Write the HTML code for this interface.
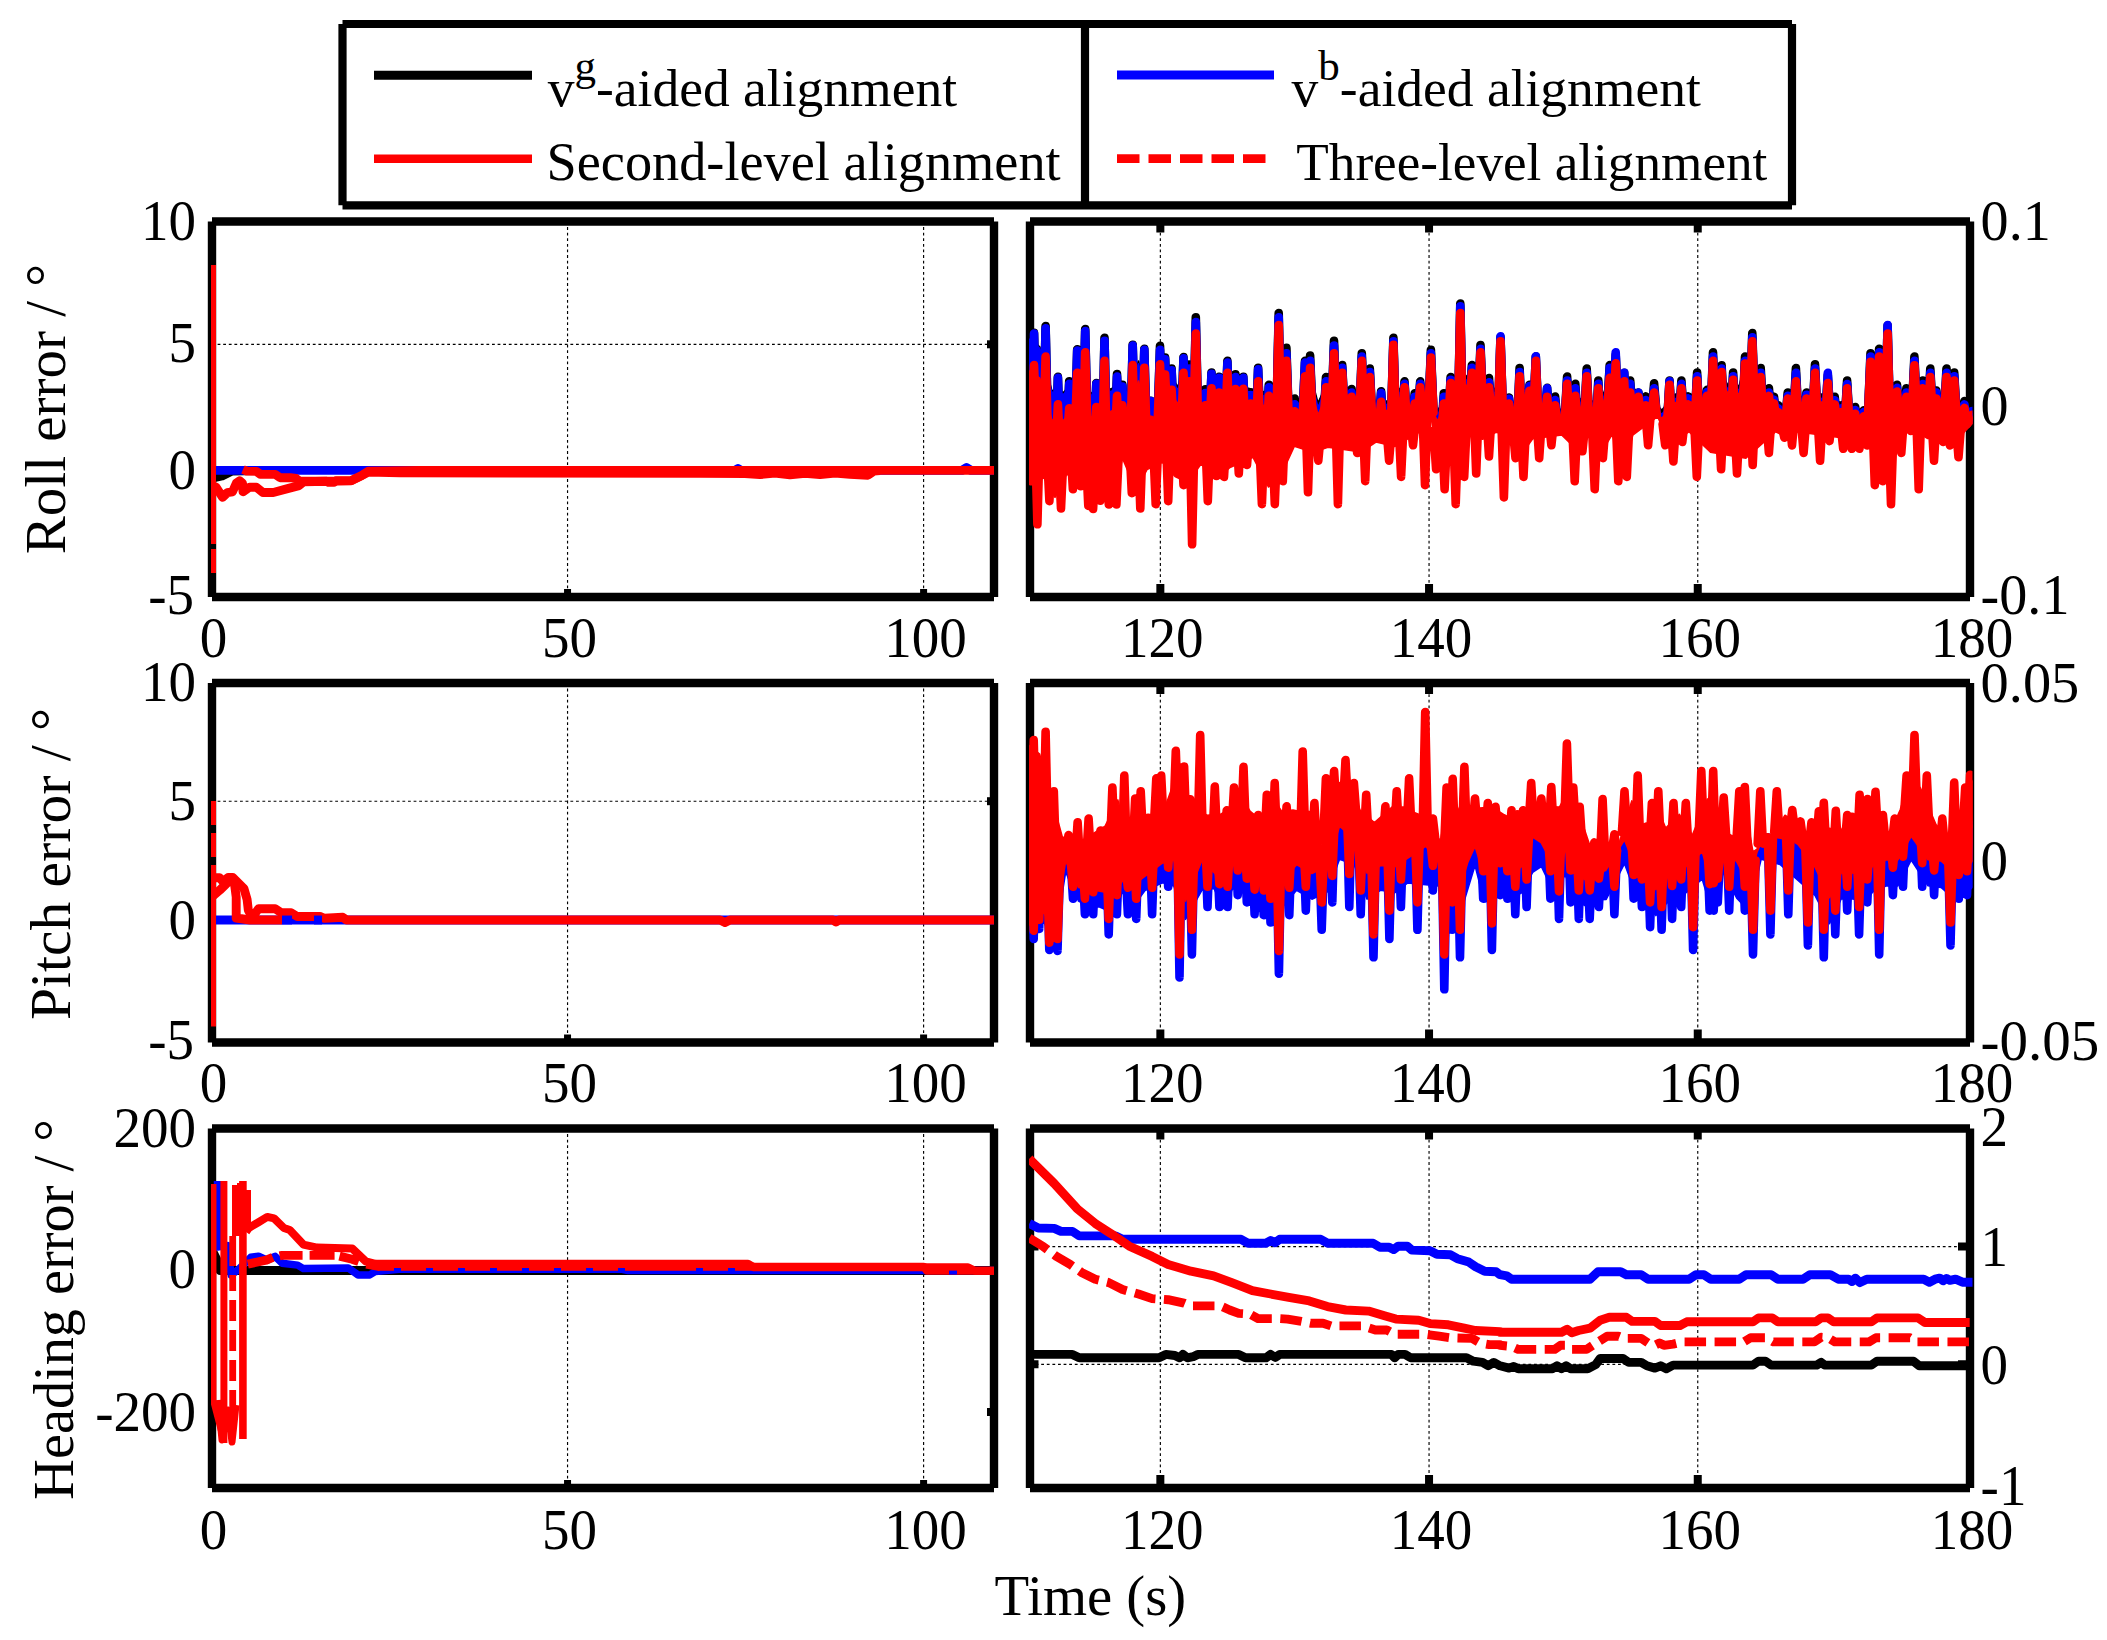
<!DOCTYPE html>
<html lang="en"><head><meta charset="utf-8"><title>Alignment errors</title>
<style>
html,body{margin:0;padding:0;background:#fff;}
body{width:2107px;height:1640px;overflow:hidden;}
svg{display:block;}
text{font-family:"Liberation Serif", "DejaVu Serif", serif;fill:#000;}
.ax{stroke:#000;stroke-width:8.4;fill:none;stroke-linecap:butt;}
.tk{stroke:#000;stroke-width:8;fill:none;}
.g{stroke:#000;stroke-width:1.15;stroke-dasharray:2.8 2.8;fill:none;}
.k{stroke:#000;} .b{stroke:#0000ff;} .r{stroke:#ff0000;}
.d{fill:none;stroke-width:8.9;stroke-linejoin:round;stroke-linecap:butt;}
</style></head><body>
<svg width="2107" height="1640" viewBox="0 0 2107 1640">
<rect x="0" y="0" width="2107" height="1640" fill="#fff"/>
<defs>
<clipPath id="c1"><rect x="211" y="217.5" width="785.5" height="383.5"/></clipPath>
<clipPath id="c2"><rect x="1029" y="217.5" width="943.5" height="383.5"/></clipPath>
<clipPath id="c3"><rect x="211" y="679" width="785.5" height="367.5"/></clipPath>
<clipPath id="c4"><rect x="1029" y="679" width="943.5" height="367.5"/></clipPath>
<clipPath id="c5"><rect x="211" y="1124.5" width="785.5" height="367.5"/></clipPath>
<clipPath id="c6"><rect x="1029" y="1124.5" width="943.5" height="367.5"/></clipPath>
</defs>
<line x1="567.55" y1="221.5" x2="567.55" y2="597" class="g"/>
<line x1="923.6" y1="221.5" x2="923.6" y2="597" class="g"/>
<line x1="567.55" y1="683" x2="567.55" y2="1042.5" class="g"/>
<line x1="923.6" y1="683" x2="923.6" y2="1042.5" class="g"/>
<line x1="567.55" y1="1128.5" x2="567.55" y2="1488" class="g"/>
<line x1="923.6" y1="1128.5" x2="923.6" y2="1488" class="g"/>
<line x1="1160.35" y1="221.5" x2="1160.35" y2="597" class="g"/>
<line x1="1429.05" y1="221.5" x2="1429.05" y2="597" class="g"/>
<line x1="1697.75" y1="221.5" x2="1697.75" y2="597" class="g"/>
<line x1="1160.35" y1="683" x2="1160.35" y2="1042.5" class="g"/>
<line x1="1429.05" y1="683" x2="1429.05" y2="1042.5" class="g"/>
<line x1="1697.75" y1="683" x2="1697.75" y2="1042.5" class="g"/>
<line x1="1160.35" y1="1128.5" x2="1160.35" y2="1488" class="g"/>
<line x1="1429.05" y1="1128.5" x2="1429.05" y2="1488" class="g"/>
<line x1="1697.75" y1="1128.5" x2="1697.75" y2="1488" class="g"/>
<line x1="212" y1="344.3" x2="994" y2="344.3" class="g"/>
<line x1="212" y1="801.2" x2="994" y2="801.2" class="g"/>
<line x1="1030" y1="1246.6" x2="1970" y2="1246.6" class="g"/>
<line x1="1030" y1="1364.3" x2="1970" y2="1364.3" class="g"/>
<path class="ax" d="M212 221.5H994 M212 597H994 M212 221.5V597 M994 221.5V597"/>
<path class="ax" d="M1030 221.5H1970 M1030 597H1970 M1030 221.5V597 M1970 221.5V597"/>
<path class="ax" d="M212 683H994 M212 1042.5H994 M212 683V1042.5 M994 683V1042.5"/>
<path class="ax" d="M1030 683H1970 M1030 1042.5H1970 M1030 683V1042.5 M1970 683V1042.5"/>
<path class="ax" d="M212 1128.5H994 M212 1488H994 M212 1128.5V1488 M994 1128.5V1488"/>
<path class="ax" d="M1030 1128.5H1970 M1030 1488H1970 M1030 1128.5V1488 M1970 1128.5V1488"/>
<path class="tk" style="stroke-width:7" d="M567.55 597v-8 M923.6 597v-8 "/>
<path class="tk" style="stroke-width:7" d="M567.55 1042.5v-8 M923.6 1042.5v-8 "/>
<path class="tk" style="stroke-width:7" d="M567.55 1488v-8 M923.6 1488v-8 "/>
<path class="tk" style="stroke-width:8" d="M1160.35 597v-13 M1160.35 221.5v11 M1429.05 597v-13 M1429.05 221.5v11 M1697.75 597v-13 M1697.75 221.5v11 "/>
<path class="tk" style="stroke-width:8" d="M1160.35 1042.5v-13 M1160.35 683v11 M1429.05 1042.5v-13 M1429.05 683v11 M1697.75 1042.5v-13 M1697.75 683v11 "/>
<path class="tk" style="stroke-width:8" d="M1160.35 1488v-13 M1160.35 1128.5v11 M1429.05 1488v-13 M1429.05 1128.5v11 M1697.75 1488v-13 M1697.75 1128.5v11 "/>
<path class="tk" d="M994 344.3h-7 "/>
<path class="tk" d="M994 801.2h-7 "/>
<path class="tk" d="M994 1412h-7 "/>
<path class="tk" d="M1970 1246.6h-12 M1970 1364.3h-12 "/>
<path class="tk" d="M1030 1246.6h8.5 M1030 1364.3h8.5 "/>
<g clip-path="url(#c6)">
<path class="d k" d="M1029.3 1354.4 L1031.4 1354.4 L1072.4 1354.4 L1079.2 1357.8 L1159.0 1357.8 L1165.8 1354.4 L1174.9 1355.5 L1179.5 1357.8 L1182.9 1354.4 L1187.4 1357.8 L1193.1 1356.7 L1197.7 1354.4 L1238.7 1354.4 L1245.5 1357.8 L1266.0 1357.8 L1270.6 1354.4 L1275.1 1357.4 L1279.7 1354.4 L1391.3 1354.4 L1394.7 1357.8 L1398.2 1354.4 L1405.0 1354.4 L1410.7 1357.8 L1466.5 1357.8 L1473.3 1361.2 L1482.5 1362.4 L1488.2 1365.8 L1493.8 1362.4 L1500.0 1365.8 L1500.0 1365.8 L1509.1 1368.1 L1513.7 1366.5 L1518.2 1368.7 L1552.4 1368.7 L1557.0 1365.8 L1561.5 1368.7 L1566.1 1365.8 L1570.6 1368.7 L1587.7 1368.7 L1595.7 1364.6 L1600.2 1358.5 L1623.0 1358.5 L1628.7 1362.4 L1641.2 1362.4 L1646.9 1365.8 L1654.9 1368.1 L1660.6 1365.8 L1666.3 1368.7 L1673.1 1365.1 L1752.9 1365.1 L1758.6 1361.2 L1765.4 1361.2 L1771.1 1365.1 L1816.7 1365.1 L1821.2 1362.4 L1824.6 1365.1 L1871.3 1365.1 L1877.0 1361.2 L1913.5 1361.2 L1919.2 1365.8 L1969.7 1365.8" />
<path class="d b" d="M1029.3 1223.5 L1031.4 1224.5 L1038.2 1228.0 L1054.2 1228.4 L1061.0 1231.4 L1072.4 1231.4 L1079.2 1235.9 L1115.7 1235.9 L1122.5 1239.3 L1241.0 1239.3 L1247.8 1243.2 L1266.0 1243.2 L1270.6 1240.5 L1275.1 1242.8 L1279.7 1239.3 L1320.7 1239.3 L1327.5 1243.2 L1373.1 1243.2 L1379.9 1247.3 L1389.1 1247.3 L1393.6 1249.6 L1398.2 1246.2 L1407.3 1246.2 L1411.8 1250.1 L1430.1 1250.7 L1436.9 1254.2 L1450.6 1254.8 L1457.4 1258.7 L1468.8 1262.1 L1475.6 1266.7 L1484.7 1271.2 L1496.1 1271.7 L1500.0 1274.7 L1500.0 1274.7 L1506.8 1275.8 L1511.4 1279.2 L1590.0 1279.2 L1598.0 1271.7 L1620.7 1271.7 L1626.4 1274.7 L1641.2 1274.7 L1648.1 1279.2 L1689.1 1279.2 L1695.9 1274.7 L1703.9 1274.7 L1710.7 1279.2 L1739.2 1279.2 L1746.0 1274.7 L1771.1 1274.7 L1777.9 1279.2 L1803.0 1279.2 L1809.8 1274.7 L1830.3 1274.7 L1838.3 1279.2 L1848.6 1279.2 L1852.0 1281.5 L1855.4 1278.1 L1859.9 1282.6 L1866.8 1279.2 L1923.7 1279.2 L1929.4 1282.2 L1935.1 1279.2 L1939.7 1278.1 L1943.1 1280.8 L1946.5 1278.5 L1949.9 1280.4 L1955.6 1279.2 L1962.5 1282.2 L1973.4 1282.2" />
<path class="d r" d="M1029.3 1158.7 L1031.4 1160.8 L1054.2 1183.5 L1077.0 1208.6 L1095.2 1223.4 L1111.1 1233.7 L1129.3 1246.2 L1152.1 1256.4 L1168.1 1264.4 L1190.9 1271.2 L1213.6 1275.8 L1231.9 1282.6 L1252.4 1290.6 L1270.6 1294.0 L1288.8 1297.4 L1309.3 1300.9 L1327.5 1306.6 L1345.8 1310.0 L1368.6 1311.1 L1384.5 1315.7 L1395.9 1319.1 L1418.7 1320.2 L1430.1 1323.6 L1448.3 1324.8 L1464.2 1328.2 L1475.6 1330.5 L1500.0 1331.6 L1500.0 1332.3 L1561.5 1332.3 L1567.2 1329.3 L1571.8 1332.8 L1578.6 1330.5 L1590.0 1328.2 L1600.2 1320.2 L1609.3 1317.3 L1626.4 1317.3 L1632.1 1321.4 L1654.9 1321.4 L1660.6 1325.5 L1680.0 1325.5 L1686.8 1321.8 L1752.9 1321.8 L1758.6 1317.9 L1772.2 1317.9 L1777.9 1321.8 L1815.5 1321.8 L1821.2 1317.9 L1828.0 1317.9 L1833.7 1321.8 L1871.3 1321.8 L1877.0 1317.9 L1918.0 1317.9 L1924.9 1322.5 L1969.7 1322.5" />
<path class="d r" d="M1029.3 1238.1 L1031.4 1239.3 L1042.8 1246.2 L1056.4 1256.4 L1070.1 1264.4 L1081.5 1272.4 L1095.2 1279.2 L1108.8 1282.6 L1122.5 1289.5 L1138.5 1294.0 L1152.1 1298.6 L1168.1 1299.7 L1184.0 1303.1 L1190.9 1305.9 L1220.5 1305.9 L1229.6 1310.0 L1238.7 1313.4 L1250.1 1314.1 L1258.1 1318.6 L1279.7 1318.6 L1287.7 1319.1 L1301.3 1321.4 L1310.5 1323.2 L1323.0 1323.2 L1331.0 1325.9 L1362.9 1325.9 L1375.4 1330.0 L1386.8 1330.0 L1394.7 1334.3 L1425.5 1334.3 L1439.2 1336.2 L1450.6 1337.8 L1472.2 1338.4 L1480.2 1343.0 L1489.3 1344.6 L1500.0 1344.6 L1500.0 1345.3 L1511.4 1346.4 L1518.2 1349.4 L1554.7 1349.4 L1560.4 1345.3 L1564.9 1345.3 L1570.6 1349.4 L1586.6 1349.4 L1598.0 1341.9 L1607.1 1336.2 L1618.5 1336.2 L1624.2 1338.4 L1641.2 1338.4 L1648.1 1343.0 L1654.9 1345.3 L1659.5 1343.0 L1664.0 1345.3 L1673.1 1344.1 L1682.2 1341.9 L1743.8 1341.9 L1750.6 1337.8 L1766.5 1337.8 L1773.4 1341.9 L1814.4 1341.9 L1821.2 1337.3 L1828.0 1337.8 L1834.9 1341.9 L1869.1 1341.9 L1875.9 1337.8 L1910.1 1337.8 L1916.9 1341.9 L1969.7 1341.9" stroke-dasharray="21.5 8.5"/>
</g>
<path class="d k" d="M213.0 478.0 L222.0 476.0 L232.0 471.0 L260.0 470.4" clip-path="url(#c1)" />
<path class="d b" d="M213.0 470.4 L735.0 470.4 L738.0 468.6 L741.0 470.4 L962.0 470.4 L966.5 467.6 L971.0 470.4 L994.0 470.4" clip-path="url(#c1)" />
<path class="d r" d="M212.6 486.1 L215.9 487.0 L222.6 497.3 L227.3 492.7 L232.5 491.8 L236.3 483.2 L239.6 480.8 L242.5 483.2 L243.0 491.8 L249.6 487.2 L256.3 487.2 L262.9 492.5 L273.3 492.5 L288.5 488.4 L299.0 485.6 L303.7 481.8 L326.5 481.3 L328.4 482.3 L334.1 482.3 L336.0 480.8 L351.2 480.6 L360.7 476.1 L368.3 472.0 L400.0 472.8 L700.0 473.3 L745.0 473.6 L760.0 474.6 L775.0 473.0 L790.0 474.8 L805.0 473.4 L820.0 474.6 L835.0 473.0 L850.0 474.2 L868.0 475.2 L874.0 471.0 L880.0 470.6" clip-path="url(#c1)" />
<path class="d r" d="M243.0 469.5 L246.8 471.1 L256.3 471.4 L260.1 474.2 L275.2 474.4 L280.0 477.7 L290.4 477.7 L296.1 478.5 L299.9 481.3 L351.2 480.9 L360.7 476.1 L368.3 471.1 L420.0 470.4 L994.0 470.4" clip-path="url(#c1)" />
<path d="M213.5 265V544 M213.5 549V573" stroke="#f00" stroke-width="5" fill="none"/>
<path class="d b" d="M213.0 920.0 L994.0 920.0" clip-path="url(#c3)" />
<path class="d r" d="M213.0 877.8 L219.7 877.8 L222.8 881.5 L228.1 877.5 L232.7 877.5 L244.0 888.7 L247.1 899.4 L248.3 910.0 L252.4 917.5 L258.5 908.8 L275.2 908.8 L281.3 912.7 L291.1 912.7 L297.2 916.5 L320.0 916.5 L324.5 918.3 L342.8 917.3 L346.6 920.0 L720.0 920.0 L725.0 922.5 L730.0 920.0 L833.0 920.0 L836.0 922.0 L839.0 920.0 L994.0 920.0" clip-path="url(#c3)" />
<path class="d r" d="M213.0 896.0 L219.7 890.2 L224.3 885.7 L229.0 881.0 L234.0 880.0 L236.2 897.0 L236.2 918.0 L250.0 920.0 L282.0 920.0" clip-path="url(#c3)" />
<path class="d b" d="M282.0 920.0 L292.0 920.0" clip-path="url(#c3)" />
<path class="d b" d="M314.0 920.0 L322.0 920.0" clip-path="url(#c3)" />
<path d="M213.5 801V825 M213.5 833V857 M213.5 865V1026.5" stroke="#f00" stroke-width="5" fill="none"/>
<path class="d k" d="M213.0 1252.0 L218.0 1262.0 L220.0 1270.5 L994.0 1270.5" clip-path="url(#c5)" />
<path class="d b" d="M217.5 1181.0 L217.5 1247.0 L227.3 1245.6 L231.2 1274.9 L239.0 1269.0 L250.7 1257.3 L258.5 1256.3 L267.3 1260.2 L275.1 1256.3 L282.0 1263.2 L297.6 1265.1 L303.4 1268.6 L348.3 1268.0 L358.0 1274.9 L369.8 1274.9 L375.6 1271.4 L399.0 1269.3 L622.0 1269.3 L628.0 1270.5 L994.0 1270.5" clip-path="url(#c5)" style="stroke-width:7.5"/>
<g clip-path="url(#c5)" fill="none" stroke="#f00">
<path d="M213.7 1184V1404 L221 1432" stroke-width="5.5"/>
<path d="M223.9 1181V1443" stroke-width="7"/>
<path d="M242.9 1181V1439" stroke-width="7.6"/>
<path d="M232.7 1236V1423" stroke-width="6.8" stroke-dasharray="30 9 16 9 21 9 21 9 21 9"/>
<path d="M236 1185V1236 M241 1183V1232 M247 1190V1230" stroke-width="8"/>
<path d="M218 1400L222 1440L228 1410L232 1442L236 1405" stroke-width="7" stroke-linejoin="round"/>
</g>
<path class="d r" d="M246.0 1232.0 L248.8 1228.0 L258.5 1222.2 L267.3 1216.9 L274.1 1218.3 L283.9 1228.0 L289.8 1230.0 L303.4 1244.6 L317.1 1247.6 L352.2 1248.5 L365.9 1261.5 L375.6 1263.8 L748.0 1263.8 L754.0 1267.2 L968.0 1267.2 L975.0 1270.8 L994.0 1270.8" clip-path="url(#c5)" style="stroke-width:8"/>
<path class="d r" d="M247.8 1264.1 L266.3 1260.2 L274.1 1256.9 L282.0 1255.4 L336.6 1255.4 L352.2 1259.3 L365.9 1264.1 L380.0 1266.7" clip-path="url(#c5)" stroke-dasharray="26 7 23 7 25 5 20 8"/>
<path class="d r" d="M378.0 1266.7 L924.0 1266.7 L927.0 1270.8 L994.0 1270.8" clip-path="url(#c5)" style="stroke-width:8"/>
<path d="M394 1269.6H640 M696 1269.6H704 M728 1269.6H736" stroke="#00f" stroke-width="3.2" stroke-dasharray="7 25" fill="none"/>
<path d="M949 1272.6H957" stroke="#00f" stroke-width="4" fill="none"/>
<g clip-path="url(#c2)">
<path d="M1029.0 337.6 L1039.8 346.8 L1051.8 390.2 L1063.5 392.3 L1073.2 382.5 L1081.2 348.1 L1090.8 393.7 L1100.4 385.0 L1111.0 389.2 L1119.7 382.4 L1127.5 392.7 L1138.5 360.9 L1147.4 399.0 L1155.3 406.4 L1162.5 355.2 L1168.3 370.6 L1177.6 386.7 L1186.3 363.2 L1192.4 363.5 L1200.5 394.5 L1208.4 388.1 L1215.2 375.7 L1223.1 379.9 L1232.0 375.0 L1239.4 374.8 L1247.0 387.9 L1264.0 391.7 L1273.7 389.7 L1282.5 347.6 L1290.5 400.2 L1299.8 407.1 L1307.5 362.8 L1318.0 402.8 L1330.0 376.5 L1338.1 362.8 L1347.0 391.0 L1356.7 394.1 L1365.8 367.2 L1375.5 403.0 L1390.4 402.1 L1399.0 388.4 L1409.6 401.8 L1418.0 391.9 L1425.6 387.7 L1437.4 410.8 L1455.4 380.3 L1466.1 376.5 L1476.2 366.1 L1485.0 381.0 L1514.3 404.1 L1525.0 388.6 L1532.7 380.6 L1541.5 399.8 L1551.1 397.4 L1561.1 410.7 L1571.2 388.7 L1581.0 399.8 L1595.5 401.4 L1604.0 392.2 L1612.7 368.2 L1642.2 396.0 L1650.0 398.4 L1661.8 410.0 L1675.5 394.1 L1685.0 394.9 L1693.0 399.8 L1702.1 394.9 L1710.0 386.4 L1717.3 366.7 L1727.3 384.0 L1739.0 385.8 L1748.7 354.1 L1765.0 389.4 L1771.5 394.2 L1776.2 402.8 L1783.0 409.6 L1791.8 391.9 L1799.1 401.1 L1804.3 401.1 L1811.0 393.0 L1831.2 395.1 L1838.1 402.8 L1844.3 402.8 L1859.4 410.0 L1867.1 407.1 L1874.8 356.4 L1883.3 351.3 L1892.3 389.2 L1902.0 394.1 L1911.0 389.1 L1918.5 381.7 L1926.4 380.0 L1941.4 398.9 L1950.4 372.5 L1959.3 408.3 L1968.3 406.5 L1973.0 410.0 L1973.0 420.5 L1968.0 421.4 L1959.3 426.8 L1954.0 418.8 L1950.4 411.7 L1941.4 423.2 L1926.0 412.7 L1906.0 412.7 L1901.0 418.5 L1896.0 422.1 L1892.3 427.8 L1886.7 426.1 L1883.3 419.6 L1878.6 421.7 L1874.8 414.0 L1870.9 417.8 L1867.0 430.4 L1855.6 432.8 L1847.0 425.5 L1838.0 424.1 L1810.8 417.1 L1804.0 420.8 L1799.0 420.5 L1791.8 417.6 L1788.0 422.7 L1783.0 426.5 L1771.0 418.5 L1764.8 418.4 L1748.7 408.7 L1739.0 425.9 L1727.0 424.2 L1717.3 414.5 L1710.0 423.2 L1692.7 421.7 L1689.0 418.8 L1675.0 421.5 L1669.3 426.7 L1661.8 422.3 L1657.5 415.2 L1632.8 415.9 L1622.5 430.3 L1612.7 406.3 L1612.0 406.7 L1604.0 424.4 L1598.8 431.5 L1595.0 428.7 L1588.4 420.7 L1581.0 427.5 L1578.6 428.6 L1571.0 420.9 L1561.9 426.4 L1561.0 427.2 L1551.0 420.6 L1541.5 422.2 L1532.7 414.2 L1519.5 431.3 L1514.0 428.7 L1509.9 422.5 L1496.0 416.6 L1482.6 412.8 L1476.0 406.3 L1470.2 408.4 L1460.0 431.1 L1455.0 427.9 L1451.4 427.4 L1440.3 440.8 L1437.4 435.9 L1430.9 412.6 L1425.6 410.8 L1409.6 424.6 L1398.9 421.3 L1395.0 425.7 L1390.0 428.9 L1375.5 428.1 L1365.8 413.5 L1356.7 428.2 L1346.9 425.8 L1338.0 411.3 L1328.0 419.9 L1318.0 432.7 L1307.5 412.8 L1299.8 433.8 L1294.4 431.1 L1290.5 433.8 L1282.5 416.4 L1278.8 429.4 L1273.7 443.4 L1268.4 445.7 L1253.0 430.2 L1246.9 431.7 L1239.0 427.0 L1230.0 429.2 L1223.0 434.4 L1220.0 434.9 L1215.0 433.0 L1208.0 437.2 L1200.9 437.3 L1200.5 437.7 L1192.4 428.1 L1187.8 431.3 L1186.0 431.2 L1177.6 441.0 L1168.0 428.1 L1162.5 418.0 L1155.3 445.4 L1147.0 443.1 L1138.5 433.4 L1136.0 439.3 L1127.5 441.9 L1122.4 432.8 L1119.7 437.5 L1112.6 457.5 L1104.0 454.0 L1100.0 454.6 L1090.7 462.6 L1084.4 437.6 L1081.2 430.1 L1076.8 439.9 L1073.0 445.5 L1066.9 445.0 L1063.0 450.8 L1055.0 458.7 L1051.8 455.8 L1043.9 435.1 L1039.8 429.0 L1034.0 428.2 L1029.0 423.2Z" fill="#000" stroke="#000" stroke-width="1.5" stroke-linejoin="round"/>
<path d="M1031.4 428.2L1034.0 332.7L1036.6 428.2M1043.0 440.6L1045.6 326.1L1048.2 440.6M1055.3 455.7L1057.9 376.8L1060.5 455.7M1066.6 445.1L1069.2 381.2L1071.8 445.1M1074.6 439.4L1077.2 349.3L1079.8 439.4M1082.6 439.9L1085.2 329.0L1087.8 439.9M1093.7 457.2L1096.3 383.1L1098.9 457.2M1101.9 454.0L1104.5 337.8L1107.1 454.0M1114.4 445.1L1117.0 374.0L1119.6 445.1M1119.8 432.8L1122.4 384.8L1125.0 432.8M1130.1 440.2L1132.7 344.7L1135.3 440.2M1141.7 439.7L1144.3 348.9L1146.9 439.7M1148.0 444.6L1150.6 400.7L1153.2 444.6M1157.4 427.5L1160.0 345.8L1162.6 427.5M1162.5 422.5L1165.1 357.5L1167.7 422.5M1169.0 433.9L1171.6 368.6L1174.2 433.9M1180.9 433.6L1183.5 357.1L1186.1 433.6M1186.4 430.4L1189.0 364.6L1191.6 430.4M1193.2 432.3L1195.8 317.2L1198.4 432.3M1202.6 437.2L1205.2 389.3L1207.8 437.2M1208.9 435.3L1211.5 372.5L1214.1 435.3M1216.3 434.5L1218.9 376.8L1221.5 434.5M1224.8 431.4L1227.4 360.9L1230.0 431.4M1232.8 427.8L1235.4 374.3L1238.0 427.8M1240.7 429.5L1243.3 376.8L1245.9 429.5M1247.9 430.9L1250.5 392.5L1253.1 430.9M1255.5 435.6L1258.1 367.7L1260.7 435.6M1266.2 445.5L1268.8 384.8L1271.4 445.5M1276.1 429.4L1278.7 313.1L1281.3 429.4M1283.8 424.0L1286.4 347.9L1289.0 424.0M1292.1 431.4L1294.7 398.5L1297.3 431.4M1302.4 419.6L1305.0 360.9L1307.6 419.6M1307.5 417.8L1310.1 355.5L1312.7 417.8M1323.4 422.5L1326.0 377.1L1328.6 422.5M1331.4 414.5L1334.0 340.7L1336.6 414.5M1339.6 417.7L1342.2 365.1L1344.8 417.7M1349.0 427.0L1351.6 389.0L1354.2 427.0M1359.2 420.5L1361.8 353.2L1364.4 420.5M1367.2 419.8L1369.8 368.6L1372.4 419.8M1378.5 428.0L1381.1 391.2L1383.7 428.0M1384.8 428.5L1387.4 404.4L1390.0 428.5M1390.8 427.1L1393.4 337.8L1396.0 427.1M1401.9 422.8L1404.5 381.4L1407.1 422.8M1412.1 419.8L1414.7 393.3L1417.3 419.8M1417.6 415.9L1420.2 381.4L1422.8 415.9M1428.3 412.6L1430.9 349.8L1433.5 412.6M1441.2 436.1L1443.8 393.3L1446.4 436.1M1448.0 427.9L1450.6 377.1L1453.2 427.9M1457.7 431.1L1460.3 303.6L1462.9 431.1M1469.3 407.7L1471.9 365.1L1474.5 407.7M1477.9 410.2L1480.5 345.0L1483.1 410.2M1486.4 415.1L1489.0 378.1L1491.6 415.1M1497.9 418.1L1500.5 337.3L1503.1 418.1M1506.4 422.1L1509.0 397.6L1511.6 422.1M1517.0 431.3L1519.6 368.0L1522.2 431.3M1526.9 417.4L1529.5 384.8L1532.1 417.4M1533.2 417.1L1535.8 356.6L1538.4 417.1M1544.5 421.1L1547.1 387.9L1549.7 421.1M1552.5 423.2L1555.1 396.5L1557.7 423.2M1564.5 423.3L1567.1 376.6L1569.7 423.3M1572.7 424.8L1575.3 383.9L1577.9 424.8M1584.1 422.0L1586.7 368.6L1589.3 422.0M1590.1 426.3L1592.7 405.3L1595.3 426.3M1595.7 431.0L1598.3 380.5L1600.9 431.0M1607.1 411.1L1609.7 365.1L1612.3 411.1M1613.1 414.3L1615.7 355.0L1618.3 414.3M1621.6 428.3L1624.2 372.9L1626.8 428.3M1627.6 419.8L1630.2 380.5L1632.8 419.8M1635.8 416.1L1638.4 392.5L1641.0 416.1M1643.3 415.3L1645.9 396.4L1648.5 415.3M1651.5 414.8L1654.1 383.4L1656.7 414.8M1666.9 426.7L1669.5 380.5L1672.1 426.7M1678.8 419.6L1681.4 380.5L1684.0 419.6M1685.7 418.7L1688.3 396.4L1690.9 418.7M1694.5 422.6L1697.1 372.5L1699.7 422.6M1704.4 423.3L1707.0 389.9L1709.6 423.3M1710.4 419.7L1713.0 352.3L1715.6 419.7M1719.0 419.2L1721.6 365.2L1724.2 419.2M1730.5 425.3L1733.1 372.5L1735.7 425.3M1742.4 416.2L1745.0 356.6L1747.6 416.2M1749.7 410.5L1752.3 333.1L1754.9 410.5M1758.1 415.6L1760.7 368.1L1763.3 415.6M1766.3 418.5L1768.9 388.2L1771.5 418.5M1771.4 419.9L1774.0 396.8L1776.6 419.9M1775.7 422.8L1778.3 405.3L1780.9 422.8M1785.1 422.7L1787.7 392.5L1790.3 422.7M1793.3 418.8L1795.9 368.1L1798.5 418.8M1799.6 420.7L1802.2 400.2L1804.8 420.7M1803.9 419.8L1806.5 392.5L1809.1 419.8M1812.4 417.2L1815.0 364.3L1817.6 417.2M1825.2 419.1L1827.8 375.1L1830.4 419.1M1832.1 422.2L1834.7 396.8L1837.3 422.2M1838.9 424.3L1841.5 405.3L1844.1 424.3M1844.5 425.5L1847.1 380.5L1849.7 425.5M1852.6 432.3L1855.2 407.0L1857.8 432.3M1861.1 431.0L1863.7 410.4L1866.3 431.0M1867.9 417.8L1870.5 353.2L1873.1 417.8M1876.5 421.6L1879.1 348.9L1881.7 421.6M1885.0 426.5L1887.6 325.6L1890.2 426.5M1894.4 421.3L1897.0 384.8L1899.6 421.3M1903.8 412.7L1906.4 388.2L1909.0 412.7M1911.8 411.7L1914.4 356.6L1917.0 411.7M1920.0 412.1L1922.6 380.5L1925.2 412.1M1927.7 415.6L1930.3 368.6L1932.9 415.6M1933.7 419.1L1936.3 390.5L1938.9 419.1M1943.9 417.5L1946.5 368.6L1949.1 417.5M1951.6 419.2L1954.2 372.5L1956.8 419.2M1961.8 423.9L1964.4 401.0L1967.0 423.9M1969.5 420.6L1972.1 406.7L1974.7 420.6" fill="#000" stroke="#000" stroke-width="8.6" stroke-linecap="round" stroke-linejoin="round"/>
<path d="M1029.0 339.1 L1039.8 348.4 L1051.8 392.0 L1063.5 394.2 L1073.2 384.5 L1081.2 350.2 L1090.8 396.0 L1100.4 387.3 L1111.0 391.7 L1119.7 385.0 L1127.5 395.4 L1138.5 363.7 L1147.4 401.9 L1155.3 409.4 L1162.5 358.3 L1168.3 373.7 L1177.6 390.0 L1186.3 366.6 L1192.4 367.0 L1200.5 398.1 L1208.4 391.8 L1215.2 379.4 L1223.1 383.7 L1232.0 379.0 L1239.4 378.9 L1247.0 392.1 L1264.0 396.0 L1273.7 394.0 L1282.5 351.9 L1290.5 404.5 L1299.8 411.4 L1307.5 367.1 L1318.0 407.1 L1330.0 380.8 L1338.1 367.1 L1347.0 395.3 L1356.7 398.4 L1365.8 371.5 L1375.5 407.3 L1390.4 406.4 L1399.0 392.7 L1409.6 406.1 L1418.0 396.2 L1425.6 392.0 L1437.4 415.1 L1455.4 384.6 L1466.1 380.8 L1476.2 370.4 L1485.0 385.3 L1514.3 408.4 L1525.0 392.9 L1532.7 384.9 L1541.5 404.1 L1551.1 401.7 L1561.1 415.0 L1571.2 393.0 L1581.0 404.1 L1595.5 405.7 L1604.0 396.5 L1612.7 372.5 L1642.2 400.3 L1650.0 402.7 L1661.8 414.3 L1675.5 398.4 L1685.0 399.2 L1693.0 404.1 L1702.1 399.2 L1710.0 390.7 L1717.3 371.0 L1727.3 388.3 L1739.0 390.1 L1748.7 358.4 L1765.0 393.7 L1771.5 398.5 L1776.2 407.1 L1783.0 413.9 L1791.8 396.2 L1799.1 405.4 L1804.3 405.4 L1811.0 397.3 L1831.2 399.4 L1838.1 407.1 L1844.3 407.1 L1859.4 414.3 L1867.1 411.4 L1874.8 360.7 L1883.3 355.6 L1892.3 393.5 L1902.0 398.4 L1911.0 393.4 L1918.5 386.0 L1926.4 384.3 L1941.4 403.2 L1950.4 376.8 L1959.3 412.6 L1968.3 410.8 L1973.0 414.3 L1973.0 420.5 L1968.0 421.4 L1959.3 426.8 L1954.0 418.8 L1950.4 411.7 L1941.4 423.2 L1926.0 412.7 L1906.0 412.7 L1901.0 418.5 L1896.0 422.1 L1892.3 427.8 L1886.7 426.1 L1883.3 419.6 L1878.6 421.7 L1874.8 414.0 L1870.9 417.8 L1867.0 430.4 L1855.6 432.8 L1847.0 425.5 L1838.0 424.1 L1810.8 417.1 L1804.0 420.8 L1799.0 420.5 L1791.8 417.6 L1788.0 422.7 L1783.0 426.5 L1771.0 418.5 L1764.8 418.4 L1748.7 408.7 L1739.0 425.9 L1727.0 424.2 L1717.3 414.5 L1710.0 423.2 L1692.7 421.7 L1689.0 418.8 L1675.0 421.5 L1669.3 426.7 L1661.8 422.3 L1657.5 415.2 L1632.8 415.9 L1622.5 430.3 L1612.7 406.3 L1612.0 406.7 L1604.0 424.4 L1598.8 431.5 L1595.0 428.7 L1588.4 420.7 L1581.0 427.5 L1578.6 428.6 L1571.0 420.9 L1561.9 426.4 L1561.0 427.2 L1551.0 420.6 L1541.5 422.2 L1532.7 414.2 L1519.5 431.3 L1514.0 428.7 L1509.9 422.5 L1496.0 416.6 L1482.6 412.8 L1476.0 406.3 L1470.2 408.4 L1460.0 431.1 L1455.0 427.9 L1451.4 427.4 L1440.3 440.8 L1437.4 435.9 L1430.9 412.6 L1425.6 410.8 L1409.6 424.6 L1398.9 421.3 L1395.0 425.7 L1390.0 428.9 L1375.5 428.1 L1365.8 413.5 L1356.7 428.2 L1346.9 425.8 L1338.0 411.3 L1328.0 419.9 L1318.0 432.7 L1307.5 412.8 L1299.8 433.8 L1294.4 431.1 L1290.5 433.8 L1282.5 416.4 L1278.8 429.4 L1273.7 443.4 L1268.4 445.7 L1253.0 430.2 L1246.9 431.7 L1239.0 427.0 L1230.0 429.2 L1223.0 434.4 L1220.0 434.9 L1215.0 433.0 L1208.0 437.2 L1200.9 437.3 L1200.5 437.7 L1192.4 428.1 L1187.8 431.3 L1186.0 431.2 L1177.6 441.0 L1168.0 428.1 L1162.5 418.0 L1155.3 445.4 L1147.0 443.1 L1138.5 433.4 L1136.0 439.3 L1127.5 441.9 L1122.4 432.8 L1119.7 437.5 L1112.6 457.5 L1104.0 454.0 L1100.0 454.6 L1090.7 462.6 L1084.4 437.6 L1081.2 430.1 L1076.8 439.9 L1073.0 445.5 L1066.9 445.0 L1063.0 450.8 L1055.0 458.7 L1051.8 455.8 L1043.9 435.1 L1039.8 429.0 L1034.0 428.2 L1029.0 423.2Z" fill="#00f" stroke="#00f" stroke-width="1.5" stroke-linejoin="round"/>
<path d="M1031.4 428.2L1034.0 333.6L1036.6 428.2M1043.0 440.6L1045.6 328.4L1048.2 440.6M1055.3 455.7L1057.9 377.9L1060.5 455.7M1066.6 445.1L1069.2 383.9L1071.8 445.1M1074.6 439.4L1077.2 350.6L1079.8 439.4M1082.6 439.9L1085.2 331.0L1087.8 439.9M1093.7 457.2L1096.3 383.9L1098.9 457.2M1101.9 454.0L1104.5 340.7L1107.1 454.0M1114.4 445.1L1117.0 376.6L1119.6 445.1M1119.8 432.8L1122.4 386.5L1125.0 432.8M1130.1 440.2L1132.7 345.5L1135.3 440.2M1141.7 439.7L1144.3 349.8L1146.9 439.7M1148.0 444.6L1150.6 401.0L1153.2 444.6M1157.4 427.5L1160.0 349.8L1162.6 427.5M1162.5 422.5L1165.1 359.2L1167.7 422.5M1169.0 433.9L1171.6 370.3L1174.2 433.9M1180.9 433.6L1183.5 358.3L1186.1 433.6M1186.4 430.4L1189.0 368.6L1191.6 430.4M1193.2 432.3L1195.8 322.0L1198.4 432.3M1202.6 437.2L1205.2 393.0L1207.8 437.2M1208.9 435.3L1211.5 373.7L1214.1 435.3M1216.3 434.5L1218.9 377.9L1221.5 434.5M1224.8 431.4L1227.4 362.6L1230.0 431.4M1232.8 427.8L1235.4 377.1L1238.0 427.8M1240.7 429.5L1243.3 377.9L1245.9 429.5M1247.9 430.9L1250.5 395.0L1253.1 430.9M1255.5 435.6L1258.1 369.4L1260.7 435.6M1266.2 445.5L1268.8 387.3L1271.4 445.5M1276.1 429.4L1278.7 317.3L1281.3 429.4M1283.8 424.0L1286.4 353.2L1289.0 424.0M1292.1 431.4L1294.7 404.4L1297.3 431.4M1302.4 419.6L1305.0 362.6L1307.6 419.6M1307.5 417.8L1310.1 360.9L1312.7 417.8M1323.4 422.5L1326.0 381.4L1328.6 422.5M1331.4 414.5L1334.0 345.5L1336.6 414.5M1339.6 417.7L1342.2 367.7L1344.8 417.7M1349.0 427.0L1351.6 392.5L1354.2 427.0M1359.2 420.5L1361.8 356.6L1364.4 420.5M1367.2 419.8L1369.8 372.0L1372.4 419.8M1378.5 428.0L1381.1 393.0L1383.7 428.0M1384.8 428.5L1387.4 407.8L1390.0 428.5M1390.8 427.1L1393.4 341.2L1396.0 427.1M1401.9 422.8L1404.5 383.9L1407.1 422.8M1412.1 419.8L1414.7 396.7L1417.3 419.8M1417.6 415.9L1420.2 383.9L1422.8 415.9M1428.3 412.6L1430.9 353.2L1433.5 412.6M1441.2 436.1L1443.8 396.7L1446.4 436.1M1448.0 427.9L1450.6 379.7L1453.2 427.9M1457.7 431.1L1460.3 306.2L1462.9 431.1M1469.3 407.7L1471.9 367.7L1474.5 407.7M1477.9 410.2L1480.5 348.9L1483.1 410.2M1486.4 415.1L1489.0 382.4L1491.6 415.1M1497.9 418.1L1500.5 336.4L1503.1 418.1M1506.4 422.1L1509.0 398.8L1511.6 422.1M1517.0 431.3L1519.6 372.0L1522.2 431.3M1526.9 417.4L1529.5 386.1L1532.1 417.4M1533.2 417.1L1535.8 356.3L1538.4 417.1M1544.5 421.1L1547.1 388.2L1549.7 421.1M1552.5 423.2L1555.1 400.1L1557.7 423.2M1564.5 423.3L1567.1 380.5L1569.7 423.3M1572.7 424.8L1575.3 388.2L1577.9 424.8M1584.1 422.0L1586.7 372.8L1589.3 422.0M1590.1 426.3L1592.7 407.0L1595.3 426.3M1595.7 431.0L1598.3 383.9L1600.9 431.0M1607.1 411.1L1609.7 367.7L1612.3 411.1M1613.1 414.3L1615.7 352.3L1618.3 414.3M1621.6 428.3L1624.2 372.8L1626.8 428.3M1627.6 419.8L1630.2 383.9L1632.8 419.8M1635.8 416.1L1638.4 392.6L1641.0 416.1M1643.3 415.3L1645.9 400.1L1648.5 415.3M1651.5 414.8L1654.1 388.2L1656.7 414.8M1666.9 426.7L1669.5 381.4L1672.1 426.7M1678.8 419.6L1681.4 383.9L1684.0 419.6M1685.7 418.7L1688.3 398.4L1690.9 418.7M1694.5 422.6L1697.1 376.2L1699.7 422.6M1704.4 423.3L1707.0 392.0L1709.6 423.3M1710.4 419.7L1713.0 356.6L1715.6 419.7M1719.0 419.2L1721.6 368.6L1724.2 419.2M1730.5 425.3L1733.1 376.3L1735.7 425.3M1742.4 416.2L1745.0 360.9L1747.6 416.2M1749.7 410.5L1752.3 337.3L1754.9 410.5M1758.1 415.6L1760.7 372.9L1763.3 415.6M1766.3 418.5L1768.9 392.5L1771.5 418.5M1771.4 419.9L1774.0 399.8L1776.6 419.9M1775.7 422.8L1778.3 408.3L1780.9 422.8M1785.1 422.7L1787.7 395.9L1790.3 422.7M1793.3 418.8L1795.9 372.9L1798.5 418.8M1799.6 420.7L1802.2 403.6L1804.8 420.7M1803.9 419.8L1806.5 394.7L1809.1 419.8M1812.4 417.2L1815.0 368.6L1817.6 417.2M1825.2 419.1L1827.8 372.9L1830.4 419.1M1832.1 422.2L1834.7 400.2L1837.3 422.2M1838.9 424.3L1841.5 408.4L1844.1 424.3M1844.5 425.5L1847.1 384.0L1849.7 425.5M1852.6 432.3L1855.2 410.1L1857.8 432.3M1861.1 431.0L1863.7 412.1L1866.3 431.0M1867.9 417.8L1870.5 356.6L1873.1 417.8M1876.5 421.6L1879.1 352.4L1881.7 421.6M1885.0 426.5L1887.6 325.0L1890.2 426.5M1894.4 421.3L1897.0 387.9L1899.6 421.3M1903.8 412.7L1906.4 392.5L1909.0 412.7M1911.8 411.7L1914.4 360.9L1917.0 411.7M1920.0 412.1L1922.6 384.0L1925.2 412.1M1927.7 415.6L1930.3 372.9L1932.9 415.6M1933.7 419.1L1936.3 392.5L1938.9 419.1M1943.9 417.5L1946.5 372.9L1949.1 417.5M1951.6 419.2L1954.2 376.3L1956.8 419.2M1961.8 423.9L1964.4 404.4L1967.0 423.9M1969.5 420.6L1972.1 411.0L1974.7 420.6" fill="#00f" stroke="#00f" stroke-width="8.6" stroke-linecap="round" stroke-linejoin="round"/>
<path d="M1029.0 370.8 L1039.8 378.2 L1051.8 419.8 L1063.5 420.2 L1073.2 409.1 L1081.2 373.7 L1090.8 418.2 L1100.4 408.4 L1111.0 411.6 L1119.7 404.0 L1127.5 413.6 L1138.5 380.9 L1147.4 418.3 L1155.3 425.2 L1162.5 373.5 L1168.3 388.5 L1177.6 404.0 L1186.3 380.1 L1192.4 380.1 L1200.5 410.7 L1208.4 403.9 L1215.2 391.2 L1223.1 395.1 L1232.0 389.9 L1239.4 389.4 L1247.0 402.3 L1264.0 405.5 L1273.7 403.1 L1282.5 360.7 L1290.5 413.0 L1299.8 419.6 L1307.5 375.1 L1318.0 414.8 L1330.0 388.2 L1338.1 374.3 L1347.0 402.3 L1356.7 405.1 L1365.8 378.0 L1375.5 413.7 L1390.4 412.5 L1399.0 398.7 L1409.6 412.0 L1418.0 401.9 L1425.6 397.6 L1437.4 420.6 L1455.4 389.8 L1466.1 385.9 L1476.2 375.5 L1485.0 390.2 L1514.3 413.1 L1525.0 397.5 L1532.7 389.5 L1541.5 408.6 L1551.1 406.1 L1561.1 419.5 L1571.2 397.4 L1581.0 408.4 L1595.5 409.9 L1604.0 400.7 L1612.7 376.7 L1642.2 404.4 L1650.0 406.7 L1661.8 418.3 L1675.5 402.4 L1685.0 403.2 L1693.0 408.0 L1702.1 403.1 L1710.0 394.6 L1717.3 374.9 L1727.3 392.1 L1739.0 393.9 L1748.7 362.2 L1765.0 397.5 L1771.5 402.3 L1776.2 410.9 L1783.0 417.7 L1791.8 399.9 L1799.1 409.1 L1804.3 409.1 L1811.0 401.1 L1831.2 403.1 L1838.1 410.8 L1844.3 410.8 L1859.4 418.0 L1867.1 415.1 L1874.8 364.4 L1883.3 359.3 L1892.3 397.2 L1902.0 402.1 L1911.0 397.1 L1918.5 389.7 L1926.4 388.0 L1941.4 406.9 L1950.4 380.5 L1959.3 416.2 L1968.3 414.4 L1973.0 418.0 L1973.0 423.0 L1954.0 442.7 L1946.5 443.2 L1938.6 437.6 L1927.7 438.5 L1906.0 425.3 L1896.0 445.1 L1886.7 478.6 L1878.6 481.4 L1870.9 445.6 L1863.0 445.8 L1855.6 449.0 L1847.0 438.5 L1796.7 431.8 L1788.0 437.9 L1775.7 431.8 L1745.9 458.2 L1710.5 452.2 L1689.0 431.8 L1669.3 443.8 L1658.0 417.5 L1657.5 416.7 L1632.8 435.1 L1622.5 474.1 L1612.3 434.3 L1598.8 456.6 L1588.4 431.7 L1578.6 451.5 L1561.9 435.1 L1532.7 438.8 L1519.5 457.2 L1509.9 435.2 L1496.0 432.3 L1482.6 439.3 L1470.2 435.1 L1460.0 474.2 L1451.4 459.0 L1440.3 466.4 L1430.9 417.2 L1419.0 432.3 L1395.0 446.4 L1376.0 442.1 L1361.0 452.1 L1328.0 447.2 L1313.0 452.2 L1294.4 446.2 L1278.8 480.2 L1268.4 487.0 L1253.0 457.3 L1230.0 467.5 L1220.0 476.3 L1212.0 473.4 L1200.9 464.2 L1187.8 482.5 L1175.0 476.5 L1162.5 462.4 L1147.0 469.6 L1136.0 490.3 L1122.4 458.3 L1112.6 504.8 L1104.5 498.2 L1090.7 507.2 L1084.4 486.6 L1076.8 486.6 L1066.9 473.6 L1055.0 497.4 L1043.9 477.8 L1034.3 482.4 L1029.0 475.5Z" fill="#f00" stroke="#f00" stroke-width="1.5" stroke-linejoin="round"/>
<path d="M1031.4 428.2L1034.0 365.1L1036.6 428.2M1043.0 440.6L1045.6 356.6L1048.2 440.6M1055.3 455.7L1057.9 404.4L1060.5 455.7M1066.6 445.1L1069.2 408.3L1071.8 445.1M1074.6 439.4L1077.2 372.8L1079.8 439.4M1082.6 439.9L1085.2 352.3L1087.8 439.9M1093.7 457.2L1096.3 407.0L1098.9 457.2M1101.9 454.0L1104.5 360.9L1107.1 454.0M1114.4 445.1L1117.0 395.9L1119.6 445.1M1119.8 432.8L1122.4 405.3L1125.0 432.8M1130.1 440.2L1132.7 365.1L1135.3 440.2M1141.7 439.7L1144.3 367.7L1146.9 439.7M1148.0 444.6L1150.6 419.8L1153.2 444.6M1157.4 427.5L1160.0 364.3L1162.6 427.5M1162.5 422.5L1165.1 374.5L1167.7 422.5M1169.0 433.9L1171.6 389.9L1174.2 433.9M1180.9 433.6L1183.5 372.8L1186.1 433.6M1186.4 430.4L1189.0 381.4L1191.6 430.4M1193.2 432.3L1195.8 333.6L1198.4 432.3M1202.6 437.2L1205.2 405.3L1207.8 437.2M1208.9 435.3L1211.5 388.2L1214.1 435.3M1216.3 434.5L1218.9 392.5L1221.5 434.5M1224.8 431.4L1227.4 372.8L1230.0 431.4M1232.8 427.8L1235.4 389.0L1238.0 427.8M1240.7 429.5L1243.3 388.7L1245.9 429.5M1247.9 430.9L1250.5 403.6L1253.1 430.9M1255.5 435.6L1258.1 381.4L1260.7 435.6M1266.2 445.5L1268.8 395.9L1271.4 445.5M1276.1 429.4L1278.7 325.0L1281.3 429.4M1283.8 424.0L1286.4 360.9L1289.0 424.0M1292.1 431.4L1294.7 411.2L1297.3 431.4M1302.4 419.6L1305.0 376.2L1307.6 419.6M1307.5 417.8L1310.1 367.7L1312.7 417.8M1323.4 422.5L1326.0 387.3L1328.6 422.5M1331.4 414.5L1334.0 353.2L1336.6 414.5M1339.6 417.7L1342.2 372.8L1344.8 417.7M1349.0 427.0L1351.6 396.7L1354.2 427.0M1359.2 420.5L1361.8 360.9L1364.4 420.5M1367.2 419.8L1369.8 377.1L1372.4 419.8M1378.5 428.0L1381.1 401.8L1383.7 428.0M1384.8 428.5L1387.4 413.8L1390.0 428.5M1390.8 427.1L1393.4 344.7L1396.0 427.1M1401.9 422.8L1404.5 387.3L1407.1 422.8M1412.1 419.8L1414.7 403.6L1417.3 419.8M1417.6 415.9L1420.2 387.3L1422.8 415.9M1428.3 412.6L1430.9 357.5L1433.5 412.6M1441.2 436.1L1443.8 403.6L1446.4 436.1M1448.0 427.9L1450.6 383.1L1453.2 427.9M1457.7 431.1L1460.3 313.1L1462.9 431.1M1469.3 407.7L1471.9 372.8L1474.5 407.7M1477.9 410.2L1480.5 352.3L1483.1 410.2M1486.4 415.1L1489.0 387.3L1491.6 415.1M1497.9 418.1L1500.5 341.2L1503.1 418.1M1506.4 422.1L1509.0 403.6L1511.6 422.1M1517.0 431.3L1519.6 376.2L1522.2 431.3M1526.9 417.4L1529.5 390.7L1532.1 417.4M1533.2 417.1L1535.8 360.9L1538.4 417.1M1544.5 421.1L1547.1 396.7L1549.7 421.1M1552.5 423.2L1555.1 405.3L1557.7 423.2M1564.5 423.3L1567.1 383.9L1569.7 423.3M1572.7 424.8L1575.3 395.9L1577.9 424.8M1584.1 422.0L1586.7 376.2L1589.3 422.0M1590.1 426.3L1592.7 411.2L1595.3 426.3M1595.7 431.0L1598.3 388.2L1600.9 431.0M1607.1 411.1L1609.7 377.9L1612.3 411.1M1613.1 414.3L1615.7 363.4L1618.3 414.3M1621.6 428.3L1624.2 381.4L1626.8 428.3M1627.6 419.8L1630.2 392.5L1632.8 419.8M1635.8 416.1L1638.4 396.7L1641.0 416.1M1643.3 415.3L1645.9 405.3L1648.5 415.3M1651.5 414.8L1654.1 392.5L1656.7 414.8M1666.9 426.7L1669.5 384.8L1672.1 426.7M1678.8 419.6L1681.4 388.2L1684.0 419.6M1685.7 418.7L1688.3 404.4L1690.9 418.7M1694.5 422.6L1697.1 380.5L1699.7 422.6M1704.4 423.3L1707.0 395.9L1709.6 423.3M1710.4 419.7L1713.0 360.9L1715.6 419.7M1719.0 419.2L1721.6 372.0L1724.2 419.2M1730.5 425.3L1733.1 379.7L1735.7 425.3M1742.4 416.2L1745.0 363.5L1747.6 416.2M1749.7 410.5L1752.3 341.3L1754.9 410.5M1758.1 415.6L1760.7 377.1L1763.3 415.6M1766.3 418.5L1768.9 395.9L1771.5 418.5M1771.4 419.9L1774.0 403.6L1776.6 419.9M1775.7 422.8L1778.3 412.1L1780.9 422.8M1785.1 422.7L1787.7 398.5L1790.3 422.7M1793.3 418.8L1795.9 381.4L1798.5 418.8M1799.6 420.7L1802.2 410.4L1804.8 420.7M1803.9 419.8L1806.5 398.5L1809.1 419.8M1812.4 417.2L1815.0 372.9L1817.6 417.2M1825.2 419.1L1827.8 383.1L1830.4 419.1M1832.1 422.2L1834.7 404.4L1837.3 422.2M1838.9 424.3L1841.5 412.1L1844.1 424.3M1844.5 425.5L1847.1 388.2L1849.7 425.5M1852.6 432.3L1855.2 413.8L1857.8 432.3M1861.1 431.0L1863.7 416.4L1866.3 431.0M1867.9 417.8L1870.5 361.8L1873.1 417.8M1876.5 421.6L1879.1 356.6L1881.7 421.6M1885.0 426.5L1887.6 333.6L1890.2 426.5M1894.4 421.3L1897.0 391.6L1899.6 421.3M1903.8 412.7L1906.4 396.8L1909.0 412.7M1911.8 411.7L1914.4 365.2L1917.0 411.7M1920.0 412.1L1922.6 388.2L1925.2 412.1M1927.7 415.6L1930.3 377.1L1932.9 415.6M1933.7 419.1L1936.3 398.5L1938.9 419.1M1943.9 417.5L1946.5 377.1L1949.1 417.5M1951.6 419.2L1954.2 380.5L1956.8 419.2M1961.8 423.9L1964.4 407.9L1967.0 423.9M1969.5 420.6L1972.1 414.7L1974.7 420.6" fill="#f00" stroke="#f00" stroke-width="8.6" stroke-linecap="round" stroke-linejoin="round"/>
<path d="M1028.5 425.2L1031.1 481.2L1033.7 425.2M1034.8 428.7L1037.4 524.3L1040.0 428.7M1046.8 448.5L1049.4 501.1L1052.0 448.5M1058.4 452.8L1061.0 508.5L1063.6 452.8M1070.3 445.5L1072.9 489.2L1075.5 445.5M1078.0 430.6L1080.6 486.3L1083.2 430.6M1085.7 451.9L1088.3 505.9L1090.9 451.9M1090.5 460.6L1093.1 509.0L1095.7 460.6M1097.6 454.3L1100.2 500.8L1102.8 454.3M1106.2 456.6L1108.8 504.5L1111.4 456.6M1113.8 448.0L1116.4 504.5L1119.0 448.0M1129.2 440.5L1131.8 493.1L1134.4 440.5M1137.7 435.1L1140.3 508.5L1142.9 435.1M1153.1 442.7L1155.7 504.2L1158.3 442.7M1165.6 428.7L1168.2 501.1L1170.8 428.7M1180.9 433.6L1183.5 485.1L1186.1 433.6M1189.5 428.3L1192.1 544.3L1194.7 428.3M1205.2 437.2L1207.8 501.1L1210.4 437.2M1213.7 433.2L1216.3 476.0L1218.9 433.2M1221.4 433.7L1224.0 476.9L1226.6 433.7M1236.2 427.0L1238.8 473.5L1241.4 427.0M1244.4 431.6L1247.0 464.9L1249.6 431.6M1259.3 440.0L1261.9 504.2L1264.5 440.0M1272.2 439.9L1274.8 504.2L1277.4 439.9M1280.2 417.4L1282.8 481.2L1285.4 417.4M1305.4 413.7L1308.0 492.3L1310.6 413.7M1315.7 432.7L1318.3 460.7L1320.9 432.7M1335.3 411.3L1337.9 504.2L1340.5 411.3M1354.6 427.7L1357.2 453.0L1359.8 427.7M1362.6 415.0L1365.2 481.2L1367.8 415.0M1386.5 428.7L1389.1 460.7L1391.7 428.7M1398.5 421.9L1401.1 476.9L1403.7 421.9M1410.4 421.6L1413.0 445.3L1415.6 421.6M1422.4 411.3L1425.0 485.1L1427.6 411.3M1433.5 430.9L1436.1 469.2L1438.7 430.9M1442.0 434.9L1444.6 489.2L1447.2 434.9M1453.1 428.4L1455.7 504.2L1458.3 428.4M1461.6 422.8L1464.2 476.9L1466.8 422.8M1473.6 406.3L1476.2 473.5L1478.8 406.3M1486.4 415.1L1489.0 456.4L1491.6 415.1M1501.3 419.8L1503.9 497.4L1506.5 419.8M1512.9 429.9L1515.5 458.1L1518.1 429.9M1520.9 424.9L1523.5 476.9L1526.1 424.9M1536.6 420.0L1539.2 458.1L1541.8 420.0M1548.8 420.6L1551.4 445.3L1554.0 420.6M1572.1 424.8L1574.7 481.2L1577.3 424.8M1579.8 426.6L1582.4 451.3L1585.0 426.6M1592.1 428.7L1594.7 489.2L1597.3 428.7M1600.3 425.7L1602.9 458.1L1605.5 425.7M1615.7 419.3L1618.3 481.2L1620.9 419.3M1624.2 424.1L1626.8 476.9L1629.4 424.1M1645.5 414.8L1648.1 445.3L1650.7 414.8M1662.6 424.2L1665.2 445.3L1667.8 424.2M1670.8 423.3L1673.4 461.5L1676.0 423.3M1679.7 419.3L1682.3 441.9L1684.9 419.3M1694.2 422.6L1696.8 476.9L1699.4 422.6M1718.5 418.2L1721.1 469.3L1723.7 418.2M1734.4 425.7L1737.0 473.5L1739.6 425.7M1750.1 411.1L1752.7 465.0L1755.3 411.1M1766.3 418.5L1768.9 453.0L1771.5 418.5M1781.7 425.8L1784.3 437.7L1786.9 425.8M1789.4 417.7L1792.0 445.4L1794.6 417.7M1801.0 420.8L1803.6 453.0L1806.2 420.8M1817.5 417.5L1820.1 460.7L1822.7 417.5M1826.9 419.5L1829.5 441.1L1832.1 419.5M1840.6 424.4L1843.2 448.8L1845.8 424.4M1849.1 429.8L1851.7 448.8L1854.3 429.8M1856.8 432.7L1859.4 448.8L1862.0 432.7M1864.5 430.4L1867.1 445.4L1869.7 430.4M1872.2 414.0L1874.8 485.2L1877.4 414.0M1879.9 420.2L1882.5 481.2L1885.1 420.2M1888.4 427.4L1891.0 504.3L1893.6 427.4M1898.7 418.5L1901.3 453.0L1903.9 418.5M1908.0 412.7L1910.6 430.9L1913.2 412.7M1916.1 411.1L1918.7 489.3L1921.3 411.1M1931.4 418.0L1934.0 460.7L1936.6 418.0M1940.5 421.4L1943.1 441.9L1945.7 421.4M1947.3 412.2L1949.9 445.4L1952.5 412.2M1955.9 424.9L1958.5 457.3L1961.1 424.9" fill="#f00" stroke="#f00" stroke-width="8.6" stroke-linecap="round" stroke-linejoin="round"/>
</g>
<g clip-path="url(#c4)">
<path d="M1029.0 835.4 L1039.7 835.7 L1044.2 841.7 L1053.4 871.4 L1062.4 859.3 L1065.7 849.6 L1078.5 864.0 L1105.1 858.9 L1113.0 851.5 L1118.0 843.6 L1122.4 851.2 L1129.2 869.2 L1132.0 860.9 L1138.0 839.3 L1144.4 846.4 L1151.7 842.6 L1158.7 821.5 L1165.4 834.1 L1174.0 821.5 L1180.6 823.9 L1185.5 845.4 L1187.1 847.7 L1193.0 844.8 L1202.0 836.2 L1223.5 847.6 L1230.4 838.2 L1232.6 833.8 L1239.0 829.2 L1242.2 832.3 L1251.0 845.4 L1262.5 852.8 L1270.8 844.7 L1275.0 848.7 L1282.0 847.1 L1296.6 837.8 L1312.0 843.8 L1320.4 859.7 L1327.0 834.1 L1330.0 818.4 L1339.8 804.8 L1350.0 810.6 L1354.3 817.7 L1360.0 832.2 L1367.1 844.8 L1374.4 845.9 L1392.0 836.8 L1426.0 832.1 L1429.1 834.2 L1438.6 849.6 L1440.2 854.8 L1448.2 848.5 L1449.7 844.2 L1456.1 852.6 L1458.5 851.7 L1468.0 835.2 L1475.0 827.6 L1483.4 840.9 L1492.0 836.2 L1496.0 835.9 L1508.0 842.4 L1512.0 842.3 L1521.0 839.3 L1533.0 822.8 L1541.3 824.5 L1554.7 837.6 L1559.6 833.3 L1565.1 823.1 L1570.1 823.1 L1584.3 854.2 L1589.2 860.2 L1606.2 857.8 L1619.5 845.0 L1624.5 832.5 L1631.8 829.5 L1638.0 844.0 L1642.4 850.1 L1649.2 853.5 L1655.1 845.3 L1656.0 846.7 L1665.7 853.1 L1679.4 843.4 L1692.2 848.1 L1702.2 831.5 L1707.4 834.3 L1711.6 847.8 L1715.7 851.6 L1717.3 849.8 L1722.8 836.8 L1733.4 846.8 L1742.0 830.9 L1749.0 857.0 L1753.0 860.2 L1761.2 840.7 L1769.0 838.1 L1785.0 826.9 L1796.4 832.6 L1805.1 847.4 L1815.2 844.2 L1821.3 845.2 L1828.0 861.3 L1829.5 863.1 L1849.5 844.2 L1856.0 846.1 L1863.3 856.5 L1871.4 834.3 L1886.1 844.6 L1889.0 847.6 L1898.0 837.3 L1910.6 806.7 L1911.2 806.5 L1921.0 819.7 L1928.1 833.0 L1936.0 842.5 L1948.0 852.0 L1955.0 849.1 L1960.0 843.4 L1967.6 826.0 L1973.0 820.7 L1973.0 887.0 L1962.0 896.1 L1954.6 899.3 L1941.0 887.4 L1928.0 885.8 L1911.2 860.1 L1897.9 886.0 L1886.0 886.0 L1873.0 891.8 L1863.0 903.8 L1853.0 898.8 L1841.2 898.9 L1829.5 923.8 L1815.0 895.5 L1780.0 864.5 L1761.2 859.2 L1748.9 911.1 L1737.0 898.6 L1722.8 872.0 L1715.7 905.9 L1711.6 910.5 L1702.2 879.3 L1676.6 900.8 L1666.8 902.9 L1655.9 915.6 L1646.0 903.9 L1637.8 899.4 L1624.5 863.7 L1606.2 899.4 L1594.0 900.1 L1584.3 905.6 L1574.7 894.8 L1565.0 874.8 L1554.7 894.4 L1541.3 866.5 L1533.0 872.0 L1521.0 893.3 L1511.4 896.9 L1503.0 890.1 L1496.0 887.5 L1483.4 898.5 L1475.0 865.6 L1456.0 928.1 L1448.2 928.1 L1438.6 886.1 L1407.7 882.9 L1395.0 892.7 L1380.8 890.2 L1367.0 899.2 L1354.3 864.7 L1339.6 859.2 L1327.0 892.2 L1311.9 899.2 L1296.6 890.3 L1284.0 904.9 L1274.7 922.5 L1250.7 904.6 L1242.0 891.6 L1232.6 888.7 L1223.5 908.5 L1213.9 888.4 L1202.0 890.2 L1185.5 919.4 L1173.8 886.0 L1162.7 882.9 L1145.0 890.6 L1132.0 908.2 L1122.4 892.1 L1112.8 912.9 L1099.0 906.7 L1089.0 906.9 L1078.5 901.1 L1065.7 872.1 L1053.4 948.5 L1044.2 922.0 L1036.0 930.2 L1029.0 933.0Z" fill="#00f" stroke="#00f" stroke-width="1.5" stroke-linejoin="round"/>
<path d="M1031.1 836.0L1033.7 939.0L1036.3 836.0M1036.6 835.8L1039.2 928.9L1041.8 835.8M1046.7 857.6L1049.3 950.0L1051.9 857.6M1054.9 866.6L1057.5 950.9L1060.1 866.6M1070.4 857.9L1073.0 898.7L1075.6 857.9M1082.3 863.7L1084.9 914.3L1087.5 863.7M1090.6 861.1L1093.2 914.3L1095.8 861.1M1106.1 855.3L1108.7 934.4L1111.3 855.3M1114.3 844.8L1116.9 914.3L1119.5 844.8M1125.3 866.0L1127.9 914.3L1130.5 866.0M1133.6 846.5L1136.2 918.9L1138.8 846.5M1149.5 841.7L1152.1 914.3L1154.7 841.7M1165.6 830.2L1168.2 886.8L1170.8 830.2M1176.9 823.7L1179.5 977.4L1182.1 823.7M1189.3 845.4L1191.9 954.5L1194.5 845.4M1204.9 840.1L1207.5 907.0L1210.1 840.1M1216.8 846.0L1219.4 907.0L1222.0 846.0M1225.0 841.5L1227.6 907.0L1230.2 841.5M1235.1 829.6L1237.7 895.1L1240.3 829.6M1244.2 839.8L1246.8 902.4L1249.4 839.8M1252.0 848.6L1254.6 914.3L1257.2 848.6M1261.1 851.4L1263.7 915.2L1266.3 851.4M1267.9 844.7L1270.5 922.5L1273.1 844.7M1276.3 847.8L1278.9 973.7L1281.5 847.8M1286.7 841.8L1289.3 915.2L1291.9 841.8M1303.2 841.9L1305.8 910.6L1308.4 841.9M1319.1 853.6L1321.7 929.8L1324.3 853.6M1329.7 815.5L1332.3 902.4L1334.9 815.5M1346.7 809.7L1349.3 907.0L1351.9 809.7M1358.1 834.0L1360.7 914.3L1363.3 834.0M1370.9 845.7L1373.5 957.3L1376.1 845.7M1386.8 837.9L1389.4 939.0L1392.0 837.9M1398.3 836.1L1400.9 907.0L1403.5 836.1M1414.8 833.6L1417.4 929.8L1420.0 833.6M1430.3 840.5L1432.9 890.5L1435.5 840.5M1441.7 851.9L1444.3 989.3L1446.9 851.9M1449.5 847.3L1452.1 929.8L1454.7 847.3M1457.4 849.1L1460.0 957.3L1462.6 849.1M1480.6 840.9L1483.2 898.7L1485.8 840.9M1481.1 840.9L1483.7 898.7L1486.3 840.9M1489.3 836.2L1491.9 950.0L1494.5 836.2M1497.5 838.2L1500.1 895.1L1502.7 838.2M1504.8 842.3L1507.4 898.7L1510.0 842.3M1512.7 840.7L1515.3 914.3L1517.9 840.7M1524.0 832.1L1526.6 907.0L1529.2 832.1M1547.8 833.0L1550.4 898.7L1553.0 833.0M1556.4 833.9L1559.0 918.9L1561.6 833.9M1567.9 823.1L1570.5 902.4L1573.1 823.1M1576.2 843.3L1578.8 918.9L1581.4 843.3M1587.1 860.0L1589.7 918.9L1592.3 860.0M1596.3 858.3L1598.9 907.0L1601.5 858.3M1611.8 850.9L1614.4 914.3L1617.0 850.9M1631.0 834.7L1633.6 898.7L1636.2 834.7M1639.3 849.6L1641.9 907.0L1644.5 849.6M1647.5 852.3L1650.1 927.1L1652.7 852.3M1659.0 850.7L1661.6 929.8L1664.2 850.7M1669.5 848.8L1672.1 918.9L1674.7 848.8M1678.6 844.0L1681.2 907.0L1683.8 844.0M1690.5 846.8L1693.1 950.0L1695.7 846.8M1707.0 842.7L1709.6 910.6L1712.2 842.7M1711.1 850.1L1713.7 910.6L1716.3 850.1M1715.2 848.2L1717.8 902.4L1720.4 848.2M1726.6 842.6L1729.2 910.6L1731.8 842.6M1742.2 842.2L1744.8 910.6L1747.4 842.2M1750.4 860.2L1753.0 954.5L1755.6 860.2M1767.8 837.4L1770.4 934.4L1773.0 837.4M1785.7 828.3L1788.3 914.3L1790.9 828.3M1805.3 846.5L1807.9 945.4L1810.5 846.5M1821.2 851.7L1823.8 957.3L1826.4 851.7M1832.7 857.9L1835.3 934.4L1837.9 857.9M1844.6 846.3L1847.2 910.6L1849.8 846.3M1856.5 850.4L1859.1 934.4L1861.7 850.4M1864.7 846.4L1867.3 902.4L1869.9 846.4M1876.6 838.3L1879.2 954.5L1881.8 838.3M1890.3 843.0L1892.9 895.1L1895.5 843.0M1900.4 825.8L1903.0 886.8L1905.6 825.8M1919.6 821.5L1922.2 886.8L1924.8 821.5M1931.5 840.2L1934.1 895.1L1936.7 840.2M1947.9 850.9L1950.5 945.4L1953.1 850.9M1956.2 844.8L1958.8 898.7L1961.4 844.8M1964.4 827.4L1967.0 895.1L1969.6 827.4" fill="#00f" stroke="#00f" stroke-width="8.6" stroke-linecap="round" stroke-linejoin="round"/>
<path d="M1029.0 745.7 L1039.7 754.1 L1062.4 837.1 L1081.3 840.8 L1105.1 826.1 L1117.9 799.9 L1129.2 853.6 L1138.0 797.3 L1144.4 816.4 L1151.7 814.3 L1158.7 777.3 L1165.4 806.0 L1180.6 764.0 L1187.1 798.1 L1193.0 807.1 L1207.0 815.2 L1221.0 814.0 L1230.4 809.0 L1238.8 793.5 L1250.0 811.0 L1256.2 816.4 L1262.5 817.8 L1270.8 795.2 L1282.0 811.6 L1293.0 809.9 L1312.0 814.0 L1320.4 849.9 L1330.0 780.2 L1349.7 785.2 L1360.0 810.1 L1374.4 822.5 L1392.0 807.1 L1408.0 810.0 L1429.1 818.4 L1440.2 842.6 L1449.0 790.1 L1449.7 786.4 L1458.5 809.7 L1492.0 807.0 L1507.4 817.0 L1517.0 810.7 L1527.1 812.0 L1536.2 806.3 L1559.6 806.9 L1570.1 786.3 L1589.2 843.6 L1610.0 846.3 L1619.5 841.9 L1631.8 800.7 L1642.4 824.3 L1649.2 825.2 L1655.1 801.9 L1665.7 828.0 L1679.4 814.4 L1692.2 835.3 L1707.4 798.9 L1717.3 828.0 L1733.4 836.3 L1742.0 789.9 L1753.0 851.8 L1757.0 849.0 L1761.2 839.2 L1769.0 836.6 L1773.0 833.7 L1785.0 815.2 L1796.4 822.9 L1805.1 840.8 L1821.3 810.0 L1828.0 828.0 L1840.8 830.8 L1849.5 815.5 L1855.7 817.2 L1863.3 835.3 L1871.4 800.7 L1879.2 813.7 L1888.9 835.3 L1900.2 809.8 L1910.6 776.0 L1920.4 787.9 L1936.0 824.5 L1947.8 837.2 L1959.7 817.0 L1967.6 786.4 L1973.0 780.4 L1973.0 861.0 L1962.0 870.1 L1954.6 873.3 L1941.0 860.9 L1928.0 859.8 L1911.2 836.3 L1897.9 860.0 L1886.0 860.0 L1873.0 865.8 L1863.0 877.8 L1853.0 872.8 L1841.2 872.9 L1829.5 897.8 L1815.0 867.1 L1796.0 841.8 L1773.0 836.7 L1761.2 842.2 L1757.0 852.4 L1748.9 885.1 L1737.0 862.2 L1722.8 842.7 L1715.7 879.9 L1711.6 884.5 L1702.2 851.9 L1676.6 874.8 L1666.8 876.9 L1655.9 889.6 L1646.0 877.9 L1637.8 873.4 L1624.5 839.9 L1606.0 870.2 L1584.3 879.6 L1574.7 868.8 L1565.0 850.1 L1554.7 868.4 L1541.0 842.5 L1533.0 837.3 L1521.0 867.3 L1511.4 870.9 L1503.0 864.1 L1496.0 861.5 L1483.4 872.5 L1475.0 846.4 L1467.7 862.7 L1456.0 902.1 L1448.2 902.1 L1438.6 860.1 L1425.6 846.3 L1395.0 866.7 L1380.8 865.5 L1367.0 873.2 L1354.3 839.1 L1339.6 826.3 L1327.0 866.2 L1311.9 873.6 L1296.6 864.7 L1284.0 878.9 L1274.7 896.5 L1250.7 878.6 L1242.0 865.6 L1232.6 862.7 L1223.5 882.5 L1202.0 860.1 L1185.5 901.1 L1173.8 860.0 L1162.0 863.3 L1132.0 886.2 L1122.4 881.1 L1112.8 893.5 L1078.5 887.4 L1065.7 861.1 L1053.4 937.3 L1044.2 912.0 L1036.0 921.3 L1029.0 925.0Z" fill="#f00" stroke="#f00" stroke-width="1.5" stroke-linejoin="round"/>
<path d="M1031.1 836.0L1033.7 740.0L1036.3 836.0M1043.0 847.6L1045.6 731.7L1048.2 847.6M1051.2 870.6L1053.8 791.2L1056.4 870.6M1065.9 852.1L1068.5 835.1L1071.1 852.1M1075.0 863.4L1077.6 822.3L1080.2 863.4M1086.0 862.8L1088.6 818.6L1091.2 862.8M1097.9 859.3L1100.5 830.5L1103.1 859.3M1109.8 852.6L1112.4 787.5L1115.0 852.6M1121.7 855.4L1124.3 775.6L1126.9 855.4M1132.6 850.1L1135.2 798.5L1137.8 850.1M1138.1 842.6L1140.7 791.2L1143.3 842.6M1145.4 844.5L1148.0 817.7L1150.6 844.5M1153.7 829.6L1156.3 778.4L1158.9 829.6M1158.6 825.5L1161.2 775.6L1163.8 825.5M1173.2 822.2L1175.8 750.9L1178.4 822.2M1181.5 838.8L1184.1 766.5L1186.7 838.8M1187.5 846.3L1190.1 799.4L1192.7 846.3M1197.6 838.1L1200.2 735.0L1202.8 838.1M1212.2 843.9L1214.8 786.6L1217.4 843.9M1224.1 842.9L1226.7 810.4L1229.3 842.9M1231.4 832.7L1234.0 787.5L1236.6 832.7M1240.9 835.1L1243.5 766.9L1246.1 835.1M1251.5 847.8L1254.1 817.7L1256.7 847.8M1255.6 850.4L1258.2 815.0L1260.8 850.4M1264.2 848.6L1266.8 794.8L1269.4 848.6M1272.1 848.7L1274.7 783.0L1277.3 848.7M1284.0 843.1L1286.6 806.4L1289.2 843.1M1300.1 840.6L1302.7 751.5L1305.3 840.6M1306.8 842.8L1309.4 815.0L1312.0 842.8M1311.8 847.7L1314.4 803.1L1317.0 847.7M1323.3 838.0L1325.9 778.4L1328.5 838.0M1331.5 812.7L1334.1 771.1L1336.7 812.7M1342.9 807.6L1345.5 760.1L1348.1 807.6M1351.3 817.2L1353.9 783.0L1356.5 817.2M1363.6 842.9L1366.2 794.8L1368.8 842.9M1382.8 839.5L1385.4 806.4L1388.0 839.5M1394.1 837.0L1396.7 791.2L1399.3 837.0M1401.0 835.2L1403.6 810.4L1406.2 835.2M1406.5 834.4L1409.1 778.4L1411.7 834.4M1422.6 831.9L1425.2 712.0L1427.8 831.9M1430.3 840.5L1432.9 818.6L1435.5 840.5M1444.0 849.5L1446.6 787.5L1449.2 849.5M1450.1 848.6L1452.7 778.9L1455.3 848.6M1461.8 842.1L1464.4 766.9L1467.0 842.1M1472.4 827.6L1475.0 798.5L1477.6 827.6M1485.2 838.8L1487.8 803.1L1490.4 838.8M1492.9 835.9L1495.5 806.7L1498.1 835.9M1501.2 839.9L1503.8 818.6L1506.4 839.9M1508.9 842.6L1511.5 810.4L1514.1 842.6M1520.4 836.9L1523.0 810.4L1525.6 836.9M1528.6 825.9L1531.2 783.0L1533.8 825.9M1538.7 824.5L1541.3 798.5L1543.9 824.5M1548.7 833.9L1551.3 787.0L1553.9 833.9M1564.3 823.1L1566.9 743.6L1569.5 823.1M1570.7 830.3L1573.3 787.5L1575.9 830.3M1577.1 845.4L1579.7 806.7L1582.3 845.4M1591.7 858.9L1594.3 842.4L1596.9 858.9M1600.0 858.0L1602.6 799.1L1605.2 858.0M1611.8 850.9L1614.4 834.2L1617.0 850.9M1621.9 832.5L1624.5 791.2L1627.1 832.5M1635.1 843.7L1637.7 775.6L1640.3 843.7M1643.9 851.4L1646.5 826.5L1649.1 851.4M1649.3 849.6L1651.9 803.1L1654.5 849.6M1655.7 848.0L1658.3 791.2L1660.9 848.0M1670.9 847.5L1673.5 803.1L1676.1 847.5M1683.2 845.9L1685.8 803.1L1688.4 845.9M1698.7 833.5L1701.3 771.1L1703.9 833.5M1710.6 849.1L1713.2 771.1L1715.8 849.1M1721.1 837.9L1723.7 797.6L1726.3 837.9M1736.7 836.0L1739.3 791.2L1741.9 836.0M1742.2 842.2L1744.8 787.0L1747.4 842.2M1757.7 843.6L1760.3 791.2L1762.9 843.6M1774.2 832.3L1776.8 791.2L1779.4 832.3M1789.7 830.3L1792.3 810.0L1794.9 830.3M1797.9 840.4L1800.5 821.4L1803.1 840.4M1808.9 845.2L1811.5 822.3L1814.1 845.2M1816.2 844.8L1818.8 811.3L1821.4 844.8M1821.2 851.7L1823.8 802.7L1826.4 851.7M1833.2 856.9L1835.8 810.8L1838.4 856.9M1844.6 846.3L1847.2 815.0L1849.8 846.3M1849.2 844.5L1851.8 816.8L1854.4 844.5M1857.0 851.9L1859.6 794.8L1862.2 851.9M1864.7 846.4L1867.3 799.1L1869.9 846.4M1872.9 836.3L1875.5 791.7L1878.1 836.3M1880.3 841.7L1882.9 815.0L1885.5 841.7M1892.1 840.8L1894.7 818.6L1897.3 840.8M1904.0 815.7L1906.6 775.6L1909.2 815.7M1911.9 810.2L1914.5 735.0L1917.1 810.2M1924.2 830.9L1926.8 775.6L1929.4 830.9M1939.7 846.2L1942.3 818.6L1944.9 846.2M1951.6 849.7L1954.2 782.6L1956.8 849.7M1962.6 832.2L1965.2 787.5L1967.8 832.2M1967.5 823.6L1970.1 774.7L1972.7 823.6" fill="#f00" stroke="#f00" stroke-width="8.6" stroke-linecap="round" stroke-linejoin="round"/>
<path d="M1031.1 836.0L1033.7 930.7L1036.3 836.0M1036.6 835.8L1039.2 919.8L1041.8 835.8M1046.7 857.6L1049.3 942.6L1051.9 857.6M1054.9 866.6L1057.5 939.0L1060.1 866.6M1070.4 857.9L1073.0 886.8L1075.6 857.9M1082.3 863.7L1084.9 898.7L1087.5 863.7M1090.6 861.1L1093.2 892.3L1095.8 861.1M1106.1 855.3L1108.7 918.9L1111.3 855.3M1114.3 844.8L1116.9 895.1L1119.5 844.8M1125.3 866.0L1127.9 887.8L1130.5 866.0M1133.6 846.5L1136.2 898.7L1138.8 846.5M1149.5 841.7L1152.1 887.8L1154.7 841.7M1165.6 830.2L1168.2 867.6L1170.8 830.2M1176.9 823.7L1179.5 954.5L1182.1 823.7M1189.3 845.4L1191.9 929.8L1194.5 845.4M1204.9 840.1L1207.5 886.8L1210.1 840.1M1216.8 846.0L1219.4 884.1L1222.0 846.0M1225.0 841.5L1227.6 886.8L1230.2 841.5M1235.1 829.6L1237.7 870.4L1240.3 829.6M1244.2 839.8L1246.8 878.6L1249.4 839.8M1252.0 848.6L1254.6 889.6L1257.2 848.6M1261.1 851.4L1263.7 890.5L1266.3 851.4M1267.9 844.7L1270.5 898.7L1273.1 844.7M1276.3 847.8L1278.9 950.9L1281.5 847.8M1286.7 841.8L1289.3 887.8L1291.9 841.8M1303.2 841.9L1305.8 886.8L1308.4 841.9M1319.1 853.6L1321.7 902.4L1324.3 853.6M1329.7 815.5L1332.3 875.9L1334.9 815.5M1346.7 809.7L1349.3 874.0L1351.9 809.7M1358.1 834.0L1360.7 890.5L1363.3 834.0M1370.9 845.7L1373.5 934.4L1376.1 845.7M1386.8 837.9L1389.4 910.6L1392.0 837.9M1398.3 836.1L1400.9 879.5L1403.5 836.1M1414.8 833.6L1417.4 902.4L1420.0 833.6M1430.3 840.5L1432.9 865.8L1435.5 840.5M1441.7 851.9L1444.3 954.5L1446.9 851.9M1449.5 847.3L1452.1 902.4L1454.7 847.3M1457.4 849.1L1460.0 929.8L1462.6 849.1M1480.6 840.9L1483.2 871.3L1485.8 840.9M1481.1 840.9L1483.7 871.3L1486.3 840.9M1489.3 836.2L1491.9 923.4L1494.5 836.2M1497.5 838.2L1500.1 863.1L1502.7 838.2M1504.8 842.3L1507.4 871.3L1510.0 842.3M1512.7 840.7L1515.3 886.8L1517.9 840.7M1524.0 832.1L1526.6 879.5L1529.2 832.1M1547.8 833.0L1550.4 871.3L1553.0 833.0M1556.4 833.9L1559.0 891.4L1561.6 833.9M1567.9 823.1L1570.5 870.4L1573.1 823.1M1576.2 843.3L1578.8 890.5L1581.4 843.3M1587.1 860.0L1589.7 890.5L1592.3 860.0M1596.3 858.3L1598.9 878.6L1601.5 858.3M1611.8 850.9L1614.4 886.8L1617.0 850.9M1631.0 834.7L1633.6 875.0L1636.2 834.7M1639.3 849.6L1641.9 879.5L1644.5 849.6M1647.5 852.3L1650.1 902.4L1652.7 852.3M1659.0 850.7L1661.6 907.0L1664.2 850.7M1669.5 848.8L1672.1 885.9L1674.7 848.8M1678.6 844.0L1681.2 879.5L1683.8 844.0M1690.5 846.8L1693.1 927.1L1695.7 846.8M1707.0 842.7L1709.6 884.1L1712.2 842.7M1711.1 850.1L1713.7 883.2L1716.3 850.1M1715.2 848.2L1717.8 878.6L1720.4 848.2M1726.6 842.6L1729.2 886.8L1731.8 842.6M1742.2 842.2L1744.8 886.8L1747.4 842.2M1750.4 860.2L1753.0 929.8L1755.6 860.2M1767.8 837.4L1770.4 910.6L1773.0 837.4M1785.7 828.3L1788.3 890.5L1790.9 828.3M1805.3 846.5L1807.9 922.5L1810.5 846.5M1821.2 851.7L1823.8 929.8L1826.4 851.7M1832.7 857.9L1835.3 910.6L1837.9 857.9M1844.6 846.3L1847.2 886.8L1849.8 846.3M1856.5 850.4L1859.1 907.0L1861.7 850.4M1864.7 846.4L1867.3 879.5L1869.9 846.4M1876.6 838.3L1879.2 929.8L1881.8 838.3M1890.3 843.0L1892.9 867.6L1895.5 843.0M1900.4 825.8L1903.0 856.7L1905.6 825.8M1919.6 821.5L1922.2 863.1L1924.8 821.5M1931.5 840.2L1934.1 870.4L1936.7 840.2M1947.9 850.9L1950.5 922.5L1953.1 850.9M1956.2 844.8L1958.8 875.0L1961.4 844.8M1964.4 827.4L1967.0 871.3L1969.6 827.4" fill="#f00" stroke="#f00" stroke-width="8.6" stroke-linecap="round" stroke-linejoin="round"/>
</g>
<text transform="translate(196 240) scale(0.965 1)" font-size="57" text-anchor="end" >10</text>
<text transform="translate(196 362) scale(0.965 1)" font-size="57" text-anchor="end" >5</text>
<text transform="translate(196 489) scale(0.965 1)" font-size="57" text-anchor="end" >0</text>
<text transform="translate(194 614) scale(0.965 1)" font-size="57" text-anchor="end" >-5</text>
<text transform="translate(196 701) scale(0.965 1)" font-size="57" text-anchor="end" >10</text>
<text transform="translate(196 820) scale(0.965 1)" font-size="57" text-anchor="end" >5</text>
<text transform="translate(196 938.5) scale(0.965 1)" font-size="57" text-anchor="end" >0</text>
<text transform="translate(194 1058.5) scale(0.965 1)" font-size="57" text-anchor="end" >-5</text>
<text transform="translate(196 1146.5) scale(0.965 1)" font-size="57" text-anchor="end" >200</text>
<text transform="translate(196 1287.7) scale(0.965 1)" font-size="57" text-anchor="end" >0</text>
<text transform="translate(196 1431) scale(0.965 1)" font-size="57" text-anchor="end" >-200</text>
<text transform="translate(1980.6 240.3) scale(0.985 1)" font-size="57" text-anchor="start" >0.1</text>
<text transform="translate(1980.6 425.3) scale(0.985 1)" font-size="57" text-anchor="start" >0</text>
<text transform="translate(1980.6 614) scale(0.985 1)" font-size="57" text-anchor="start" >-0.1</text>
<text transform="translate(1980.6 701.5) scale(0.99 1)" font-size="57" text-anchor="start" >0.05</text>
<text transform="translate(1980.6 880) scale(0.965 1)" font-size="57" text-anchor="start" >0</text>
<text transform="translate(1980.6 1060) scale(1.0 1)" font-size="57" text-anchor="start" >-0.05</text>
<text transform="translate(1980.6 1145.5) scale(0.965 1)" font-size="57" text-anchor="start" >2</text>
<text transform="translate(1980.6 1265.5) scale(0.965 1)" font-size="57" text-anchor="start" >1</text>
<text transform="translate(1980.6 1383.5) scale(0.965 1)" font-size="57" text-anchor="start" >0</text>
<text transform="translate(1980.6 1505) scale(0.965 1)" font-size="57" text-anchor="start" >-1</text>
<text transform="translate(213.5 656.5) scale(0.965 1)" font-size="57" text-anchor="middle" >0</text>
<text transform="translate(569.55 656.5) scale(0.965 1)" font-size="57" text-anchor="middle" >50</text>
<text transform="translate(925.6 656.5) scale(0.965 1)" font-size="57" text-anchor="middle" >100</text>
<text transform="translate(1162.35 656.5) scale(0.965 1)" font-size="57" text-anchor="middle" >120</text>
<text transform="translate(1431.05 656.5) scale(0.965 1)" font-size="57" text-anchor="middle" >140</text>
<text transform="translate(1699.75 656.5) scale(0.965 1)" font-size="57" text-anchor="middle" >160</text>
<text transform="translate(1972 656.5) scale(0.965 1)" font-size="57" text-anchor="middle" >180</text>
<text transform="translate(213.5 1102) scale(0.965 1)" font-size="57" text-anchor="middle" >0</text>
<text transform="translate(569.55 1102) scale(0.965 1)" font-size="57" text-anchor="middle" >50</text>
<text transform="translate(925.6 1102) scale(0.965 1)" font-size="57" text-anchor="middle" >100</text>
<text transform="translate(1162.35 1102) scale(0.965 1)" font-size="57" text-anchor="middle" >120</text>
<text transform="translate(1431.05 1102) scale(0.965 1)" font-size="57" text-anchor="middle" >140</text>
<text transform="translate(1699.75 1102) scale(0.965 1)" font-size="57" text-anchor="middle" >160</text>
<text transform="translate(1972 1102) scale(0.965 1)" font-size="57" text-anchor="middle" >180</text>
<text transform="translate(213.5 1548.5) scale(0.965 1)" font-size="57" text-anchor="middle" >0</text>
<text transform="translate(569.55 1548.5) scale(0.965 1)" font-size="57" text-anchor="middle" >50</text>
<text transform="translate(925.6 1548.5) scale(0.965 1)" font-size="57" text-anchor="middle" >100</text>
<text transform="translate(1162.35 1548.5) scale(0.965 1)" font-size="57" text-anchor="middle" >120</text>
<text transform="translate(1431.05 1548.5) scale(0.965 1)" font-size="57" text-anchor="middle" >140</text>
<text transform="translate(1699.75 1548.5) scale(0.965 1)" font-size="57" text-anchor="middle" >160</text>
<text transform="translate(1972 1548.5) scale(0.965 1)" font-size="57" text-anchor="middle" >180</text>
<text transform="translate(994.5 1615) scale(1 1)" font-size="56.7" text-anchor="start" >Time (s)</text>
<text transform="translate(65.3 409) rotate(-90)" font-size="57" text-anchor="middle">Roll error / °</text>
<text transform="translate(69.8 864) rotate(-90)" font-size="57.5" text-anchor="middle">Pitch error / °</text>
<text transform="translate(73.3 1309.5) rotate(-90)" font-size="56.3" text-anchor="middle">Heading error / °</text>
<path class="ax" style="stroke-width:8.2" d="M342.5 24H1792 M342.5 205.3H1792 M342.5 24V205.3 M1085 24V205.3 M1792 24V205.3"/>
<path d="M374 75.2H532" stroke="#000" stroke-width="9" fill="none"/>
<path d="M374 158.8H532" stroke="#f00" stroke-width="8.4" fill="none"/>
<path d="M1117 75H1274" stroke="#00f" stroke-width="9" fill="none"/>
<path d="M1117 158.6H1268" stroke="#f00" stroke-width="8.6" stroke-dasharray="22.5 9" fill="none"/>
<text x="547.8" y="106" font-size="53.5">v<tspan font-size="43" dy="-26.5">g</tspan><tspan dy="26.5">-aided alignment</tspan></text>
<text x="546.5" y="180.3" font-size="54.3">Second-level alignment</text>
<text x="1291.6" y="106" font-size="53.5">v<tspan font-size="43" dy="-26.5">b</tspan><tspan dy="26.5">-aided alignment</tspan></text>
<text x="1296.3" y="180.3" font-size="53.2">Three-level alignment</text>
</svg>
</body></html>
